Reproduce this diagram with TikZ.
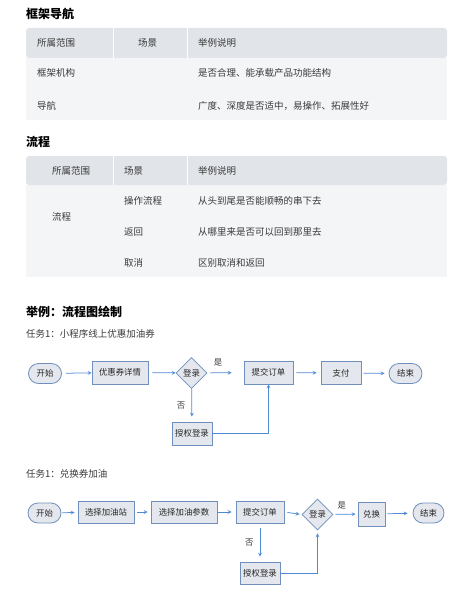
\documentclass[tikz,border=0pt]{standalone}
\usepackage{fontspec}
\setmainfont{Noto Sans CJK SC}
\usetikzlibrary{shapes.geometric}

\definecolor{headgray}{HTML}{E1E4E8}
\definecolor{bodygray}{HTML}{F4F5F7}
\definecolor{boxfill}{HTML}{E4E7ED}
\definecolor{boxline}{HTML}{6F8FBC}
\definecolor{flowblue}{HTML}{4F8AD6}
\definecolor{txt}{HTML}{3A3A3A}

\begin{document}
\begin{tikzpicture}[x=1pt, y=-1pt]
    % Styles
    \tikzstyle{title} = [anchor=west, inner sep=0, text=black, font=\fontsize{12}{14}\selectfont\bfseries]
    \tikzstyle{cell} = [anchor=west, inner sep=0, text=txt, font=\fontsize{9.5}{11}\selectfont]
    \tikzstyle{proc} = [rectangle, draw=boxline, fill=boxfill, line width=0.8pt, minimum height=23, inner sep=0, text=black!85, font=\fontsize{8.4}{9}\selectfont]
    \tikzstyle{term} = [proc, rounded corners=10, minimum width=33, minimum height=20]
    \tikzstyle{decide} = [proc, diamond, minimum width=31, minimum height=31]
    \tikzstyle{flow} = [->, >=stealth, draw=flowblue, line width=0.75pt]
    \tikzstyle{tag} = [inner sep=0, text=txt, font=\fontsize{8.4}{9}\selectfont]

    \useasboundingbox (0,0) rectangle (474,594);

    % Table 1
    \node[title] (head1) at (26,14) {框架导航};
    \fill[bodygray] (26,58) rectangle (447,120);
    \fill[headgray, rounded corners=3] (26,58) -- (26,28) -- (447,28) -- (447,58) -- cycle;
    \draw[white, line width=0.6pt] (113,28) -- (113,58) (187,28) -- (187,58);
    \node[cell] (a11) at (37,43) {所属范围};
    \node[cell] (a12) at (138,43) {场景};
    \node[cell] (a13) at (198,43) {举例说明};
    \node[cell] (a21) at (37,73) {框架机构};
    \node[cell] (a23) at (198,73) {是否合理、能承载产品功能结构};
    \node[cell] (a31) at (37,106) {导航};
    \node[cell] (a33) at (198,106) {广度、深度是否适中，易操作、拓展性好};

    % Table 2
    \node[title] (head2) at (26,142) {流程};
    \fill[bodygray] (26,185) rectangle (447,277);
    \fill[headgray, rounded corners=3] (26,185) -- (26,156) -- (447,156) -- (447,185) -- cycle;
    \draw[white, line width=0.6pt] (113,156) -- (113,185) (187,156) -- (187,185);
    \node[cell] (b11) at (52,171) {所属范围};
    \node[cell] (b12) at (124,171) {场景};
    \node[cell] (b13) at (198,171) {举例说明};
    \node[cell] (b21) at (52,217) {流程};
    \node[cell] (b22) at (124,201) {操作流程};
    \node[cell] (b23) at (198,201) {从头到尾是否能顺畅的串下去};
    \node[cell] (b32) at (124,232) {返回};
    \node[cell] (b33) at (198,232) {从哪里来是否可以回到那里去};
    \node[cell] (b42) at (124,263) {取消};
    \node[cell] (b43) at (198,263) {区别取消和返回};

    % Example heading
    \node[title] (head3) at (26,312) {举例：流程图绘制};
    \node[cell] (task1) at (26,334) {任务1：小程序线上优惠加油券};
    \node[cell] (task2) at (26,474) {任务1：兑换券加油};

    % Flow 1 nodes
    \node[term] (start1) at (45,373.5) {开始};
    \node[proc, minimum width=56] (coupon) at (120,372.5) {优惠券详情};
    \node[decide] (login1) at (191.5,373) {登录};
    \node[proc, minimum width=49] (order1) at (268.5,372.5) {提交订单};
    \node[proc, minimum width=40] (pay) at (341,373) {支付};
    \node[term] (end1) at (405.5,373.5) {结束};
    \node[proc, minimum width=40] (auth1) at (192,433.5) {授权登录};

    % Flow 1 arrows
    \draw[flow, shorten <=4pt] (start1) -- (coupon);
    \draw[flow, shorten <=4pt] (coupon) -- (login1);
    \draw[flow, shorten <=3pt, shorten >=12pt] (login1) -- node[tag, pos=0.3, above=6pt] (yes1) {是} (order1);
    \draw[flow, shorten <=3pt, shorten >=4pt] (order1) -- (pay);
    \draw[flow, shorten <=2pt, shorten >=4pt] (pay) -- (end1);
    \draw[flow, shorten >=5pt] (login1) -- node[tag, left=6pt] (no1) {否} (auth1);
    \draw[flow] (auth1.east) -| (order1.south);

    % Flow 2 nodes
    \node[term] (start2) at (44.5,513) {开始};
    \node[proc, minimum width=56, minimum height=22] (station) at (106,512) {选择加油站};
    \node[proc, minimum width=66, minimum height=22] (params) at (184,512) {选择加油参数};
    \node[proc, minimum width=48, minimum height=22] (order2) at (260,512) {提交订单};
    \node[decide] (login2) at (317.5,514.5) {登录};
    \node[proc, minimum width=27, minimum height=24] (swap) at (371.5,514) {兑换};
    \node[term, minimum width=31] (end2) at (428.5,513) {结束};
    \node[proc, minimum width=40, minimum height=22] (auth2) at (260,573) {授权登录};

    % Flow 2 arrows
    \draw[flow, shorten <=1pt, shorten >=3pt] (start2) -- (station);
    \draw[flow, shorten <=3pt, shorten >=3pt] (station) -- (params);
    \draw[flow, shorten <=1pt, shorten >=4pt] (params) -- (order2);
    \draw[flow, shorten <=3pt, shorten >=2pt] (order2.east) -- (login2.west);
    \draw[flow, shorten <=2pt, shorten >=2pt] (login2) -- node[tag, pos=0.35, above=5pt] (yes2) {是} (swap);
    \draw[flow, shorten <=2pt, shorten >=5pt] (swap) -- (end2);
    \draw[flow, shorten <=5pt, shorten >=5pt] (order2) -- node[tag, left=6pt] (no2) {否} (auth2);
    \draw[flow, shorten >=3pt] (auth2.east) -| (login2.south);
\end{tikzpicture}
\end{document}
